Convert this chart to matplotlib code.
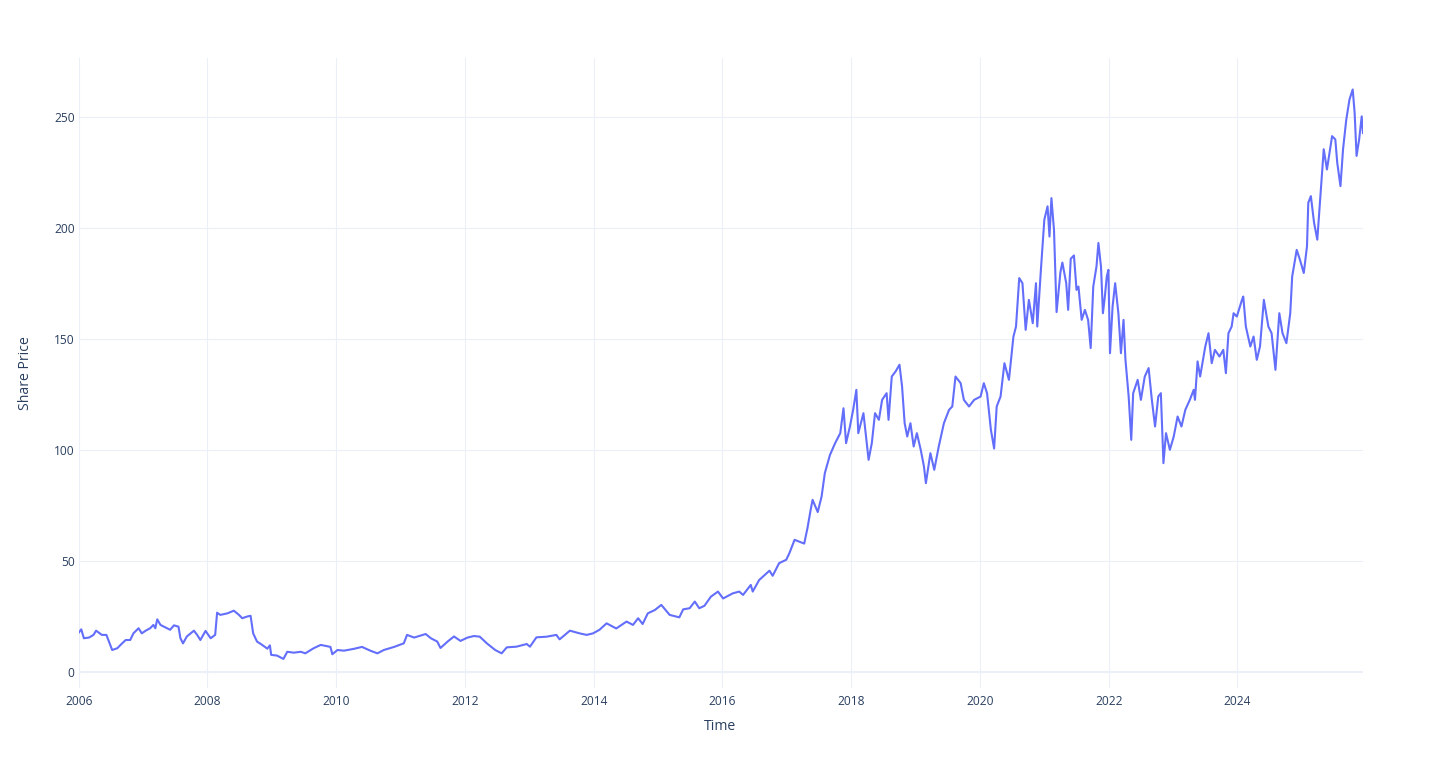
import matplotlib
matplotlib.use("Agg")
import matplotlib.pyplot as plt

# Decimal-year timestamps and share prices
years = [
    2006.00, 2006.04, 2006.08, 2006.16, 2006.23, 2006.27, 2006.36, 2006.43, 2006.47, 2006.52,
    2006.60, 2006.65, 2006.73, 2006.80, 2006.85, 2006.93, 2006.98, 2007.04, 2007.11, 2007.16,
    2007.19, 2007.22, 2007.27, 2007.37, 2007.42, 2007.48, 2007.55, 2007.58, 2007.62, 2007.68,
    2007.79, 2007.84, 2007.89, 2007.97, 2008.05, 2008.12, 2008.15, 2008.20, 2008.31, 2008.41,
    2008.49, 2008.54, 2008.62, 2008.67, 2008.71, 2008.77, 2008.85, 2008.93, 2008.97, 2008.99,
    2009.08, 2009.18, 2009.24, 2009.34, 2009.45, 2009.52, 2009.65, 2009.76, 2009.86, 2009.91,
    2009.94, 2010.02, 2010.12, 2010.27, 2010.40, 2010.53, 2010.64, 2010.74, 2010.90, 2011.05,
    2011.10, 2011.21, 2011.39, 2011.47, 2011.57, 2011.62, 2011.73, 2011.83, 2011.93, 2012.04,
    2012.14, 2012.23, 2012.34, 2012.47, 2012.57, 2012.65, 2012.80, 2012.96, 2013.01, 2013.11,
    2013.27, 2013.42, 2013.47, 2013.63, 2013.78, 2013.89, 2013.99, 2014.09, 2014.20, 2014.35,
    2014.51, 2014.61, 2014.69, 2014.76, 2014.84, 2014.95, 2015.05, 2015.18, 2015.33, 2015.39,
    2015.49, 2015.57, 2015.64, 2015.72, 2015.82, 2015.93, 2016.01, 2016.16, 2016.26, 2016.32,
    2016.44, 2016.47, 2016.57, 2016.73, 2016.78, 2016.88, 2016.99, 2017.04, 2017.12, 2017.27,
    2017.32, 2017.37, 2017.40, 2017.48, 2017.54, 2017.59, 2017.67, 2017.75, 2017.83, 2017.88,
    2017.92, 2017.98, 2018.03, 2018.08, 2018.11, 2018.19, 2018.27, 2018.32, 2018.37, 2018.43,
    2018.48, 2018.55, 2018.58, 2018.63, 2018.69, 2018.75, 2018.79, 2018.83, 2018.87, 2018.92,
    2018.97, 2019.02, 2019.08, 2019.13, 2019.16, 2019.23, 2019.29, 2019.36, 2019.44, 2019.52,
    2019.57, 2019.62, 2019.70, 2019.75, 2019.83, 2019.91, 2020.01, 2020.06, 2020.11, 2020.17,
    2020.22, 2020.26, 2020.32, 2020.38, 2020.45, 2020.52, 2020.56, 2020.61, 2020.66, 2020.71,
    2020.76, 2020.82, 2020.87, 2020.89, 2020.95, 2021.00, 2021.05, 2021.08, 2021.11, 2021.15,
    2021.19, 2021.25, 2021.28, 2021.34, 2021.37, 2021.41, 2021.46, 2021.50, 2021.53, 2021.58,
    2021.63, 2021.68, 2021.72, 2021.76, 2021.81, 2021.84, 2021.88, 2021.91, 2021.94, 2021.97,
    2021.995, 2022.02, 2022.06, 2022.10, 2022.15, 2022.19, 2022.23, 2022.26, 2022.31, 2022.35,
    2022.38, 2022.45, 2022.50, 2022.56, 2022.62, 2022.67, 2022.72, 2022.77, 2022.81, 2022.85,
    2022.89, 2022.95, 2023.01, 2023.07, 2023.13, 2023.19, 2023.26, 2023.32, 2023.34, 2023.38,
    2023.42, 2023.50, 2023.55, 2023.60, 2023.65, 2023.72, 2023.78, 2023.82, 2023.86, 2023.91,
    2023.94, 2023.99, 2024.07, 2024.09, 2024.13, 2024.20, 2024.25, 2024.30, 2024.35, 2024.41,
    2024.48, 2024.53, 2024.59, 2024.65, 2024.70, 2024.76, 2024.82, 2024.85, 2024.92, 2024.97,
    2025.03, 2025.08, 2025.10, 2025.14, 2025.19, 2025.24, 2025.30, 2025.34, 2025.39, 2025.47,
    2025.52, 2025.55, 2025.60, 2025.64, 2025.69, 2025.74, 2025.79, 2025.82, 2025.85, 2025.89,
    2025.93, 2025.95,
]

prices = [
    17.7, 19.2, 15.2, 15.5, 16.7, 18.6, 16.7, 16.7, 13.7, 9.9,
    10.7, 12.2, 14.4, 14.4, 17.4, 19.7, 17.4, 18.6, 19.7, 21.2,
    19.7, 23.7, 21.2, 19.7, 19.0, 21.0, 20.4, 15.2, 12.9, 16.0,
    18.6, 16.7, 14.4, 18.5, 15.2, 16.7, 26.7, 25.7, 26.4, 27.6,
    25.7, 24.2, 25.0, 25.3, 17.4, 13.7, 12.2, 10.5, 12.0, 7.7,
    7.4, 5.9, 9.1, 8.7, 9.1, 8.4, 10.7, 12.2, 11.6, 11.3,
    8.0, 9.9, 9.6, 10.4, 11.3, 9.6, 8.4, 9.9, 11.3, 12.9,
    16.7, 15.5, 17.1, 15.2, 13.7, 10.8, 13.7, 16.0, 14.0, 15.5,
    16.2, 15.9, 12.9, 9.9, 8.4, 11.1, 11.4, 12.6, 11.4, 15.6,
    15.9, 16.7, 14.7, 18.6, 17.4, 16.7, 17.4, 19.0, 21.9, 19.6,
    22.7, 21.2, 24.2, 21.6, 26.4, 27.9, 30.2, 25.7, 24.6, 28.2,
    28.7, 31.7, 28.7, 29.8, 33.9, 36.2, 33.1, 35.4, 36.2, 34.7,
    39.2, 36.2, 41.4, 45.6, 43.3, 49.0, 50.5, 53.5, 59.5, 57.8,
    64.7, 73.0, 77.5, 72.0, 79.0, 89.5, 97.7, 103.0, 107.5, 118.7,
    103.0, 110.5, 118.0, 127.0, 107.5, 116.5, 95.5, 103.0, 116.5, 113.5,
    122.5, 125.5, 113.5, 133.0, 135.3, 138.3, 128.5, 112.0, 106.0, 112.0,
    101.5, 107.5, 100.0, 92.5, 85.0, 98.5, 91.0, 101.5, 112.0, 118.0,
    119.5, 133.0, 130.0, 122.5, 119.5, 122.5, 124.0, 130.0, 125.5, 109.0,
    100.6, 119.5, 124.0, 139.0, 131.5, 151.0, 155.5, 177.3, 175.0, 154.0,
    167.5, 157.0, 175.0, 155.5, 182.5, 203.6, 209.6, 196.0, 213.3, 199.0,
    162.0, 180.0, 184.3, 175.0, 163.0, 186.0, 187.5, 172.0, 173.5, 158.5,
    163.0, 158.5, 145.8, 173.5, 182.5, 193.1, 182.5, 161.5, 169.0, 178.0,
    181.0, 143.5, 164.5, 175.0, 161.5, 143.5, 158.5, 140.5, 124.0, 104.5,
    125.5, 131.5, 122.5, 133.0, 136.8, 122.5, 110.5, 124.0, 125.5, 94.0,
    107.5, 100.0, 106.0, 115.0, 110.5, 118.0, 122.5, 127.0, 122.5, 139.8,
    133.0, 146.5, 152.5, 139.0, 145.0, 142.0, 145.0, 134.5, 152.5, 155.5,
    161.5, 160.0, 167.5, 169.0, 155.5, 146.5, 151.0, 140.5, 146.5, 167.5,
    155.5, 152.5, 136.0, 161.5, 152.5, 148.0, 161.5, 178.0, 190.0, 185.6,
    179.6, 191.6, 211.2, 214.2, 202.2, 194.6, 218.7, 235.3, 226.2, 241.2,
    239.7, 229.2, 218.7, 235.3, 248.6, 257.7, 262.2, 251.7, 232.3, 239.7,
    250.1, 242.6,
]

x_ticks = [2006, 2008, 2010, 2012, 2014, 2016, 2018, 2020, 2022, 2024]
x_tick_labels = [str(t) for t in x_ticks]
y_ticks = [0, 50, 100, 150, 200, 250]
y_tick_labels = [str(t) for t in y_ticks]

TEXT = "#2a3f5f"
GRID = "#EBF0F8"
LINE = "#636efa"

plt.rcParams["font.family"] = ["Open Sans", "DejaVu Sans"]

W, H = 1440, 768
fig = plt.figure(figsize=(W / 100, H / 100), dpi=100)
left, right, top, bottom = 78.7, 1363, 57.7, 688
ax = fig.add_axes([left / W, 1 - bottom / H, (right - left) / W, (bottom - top) / H])

ax.plot(years, prices, color=LINE, linewidth=1.5, zorder=3)

ax.set_xlim(years[0], years[-1])
ax.set_ylim(-7.2, 276.5)

ax.set_xticks(x_ticks)
ax.set_xticklabels(x_tick_labels)
ax.set_yticks(y_ticks)
ax.set_yticklabels(y_tick_labels)

ax.grid(True, color=GRID, linewidth=0.75, zorder=0)
ax.axhline(0, color=GRID, linewidth=1.5, zorder=1)
for s in ax.spines.values():
    s.set_visible(False)
ax.tick_params(axis="both", length=0, labelsize=8.64, labelcolor=TEXT)
ax.tick_params(axis="y", pad=3)
ax.tick_params(axis="x", pad=5)

fig.text(25.5 / W, 1 - 373 / H, "Share Price", rotation=90, ha="center", va="center",
         fontsize=10.08, color=TEXT)
fig.text(720 / W, 1 - 726 / H, "Time", ha="center", va="center",
         fontsize=10.08, color=TEXT)

fig.savefig("out.png", dpi=100, facecolor="white")
